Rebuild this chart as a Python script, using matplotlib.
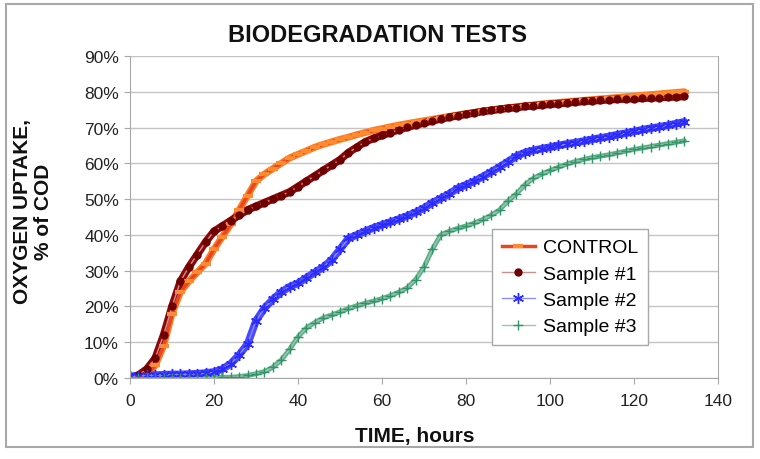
import numpy as np
import matplotlib
matplotlib.use("Agg")
import matplotlib.pyplot as plt
from matplotlib.ticker import PercentFormatter
from matplotlib.patches import Rectangle

plt.rcParams['font.family'] = ['Liberation Sans', 'DejaVu Sans']

# time in hours, one reading every 2 h
hours = np.arange(0, 133, 2)

control = [0, 0.3, 1, 3.5, 9, 18, 24, 27, 29.5, 32, 36, 39.5, 43, 47, 51, 55, 57, 58.5, 60, 61.5,
           62.5, 63.5, 64.5, 65.3, 66, 66.7, 67.3, 68, 68.6, 69.2, 69.7, 70.2, 70.7, 71.1, 71.5,
           71.9, 72.3, 72.7, 73.1, 73.5, 73.9, 74.2, 74.6, 74.9, 75.2, 75.5, 75.8, 76.1, 76.3,
           76.6, 76.8, 77.0, 77.2, 77.4, 77.6, 77.8, 78.0, 78.2, 78.4, 78.6, 78.8, 79.0, 79.2,
           79.4, 79.6, 79.8, 80.0]
sample1 = [0, 0.8, 2.5, 5.5, 12, 20, 27, 31, 34.5, 38, 41, 42.5, 44, 45.5, 47, 48, 49, 50, 51, 52,
           53.5, 55, 56.5, 58, 59.5, 61, 63, 64.5, 66, 67, 67.8, 68.6, 69.4, 70.1, 70.7, 71.3,
           71.9, 72.4, 72.9, 73.3, 73.7, 74.1, 74.5, 74.8, 75.1, 75.4, 75.6, 75.9, 76.1, 76.3,
           76.5, 76.7, 76.9, 77.1, 77.3, 77.5, 77.6, 77.8, 77.9, 78.0, 78.1, 78.2, 78.3, 78.4,
           78.5, 78.6, 78.7]
sample2 = [0.5, 0.6, 0.7, 0.8, 0.9, 1.0, 1.0, 1.1, 1.2, 1.4, 1.7, 2.5, 4, 6.5, 9.5, 16, 19.5, 22,
           24, 25.5, 26.5, 28, 29.5, 31, 33, 36, 39, 40, 41, 42, 42.8, 43.6, 44.4, 45.3, 46.3,
           47.5, 49, 50.2, 51.5, 53, 54, 55, 56.3, 57.6, 59, 60.5, 62, 63, 63.6, 64.1, 64.5, 65,
           65.4, 65.8, 66.2, 66.7, 67.1, 67.5, 68, 68.4, 68.9, 69.4, 69.8, 70.2, 70.6, 71.1, 71.6]
sample3 = [0, 0, 0, 0, 0, 0, 0, 0, 0.1, 0.1, 0.1, 0.2, 0.2, 0.4, 0.7, 1.2, 1.8, 3, 5, 8, 11.5,
           14, 15.5, 16.8, 17.6, 18.5, 19.4, 20.2, 20.9, 21.5, 22.2, 23, 24, 25.2, 27.5, 31, 36,
           40, 41, 41.8, 42.5, 43.3, 44.3, 45.5, 47, 49.5, 51.5, 54, 55.8, 57, 58, 58.9, 59.8,
           60.5, 61.1, 61.6, 62, 62.4, 62.9, 63.4, 63.9, 64.3, 64.7, 65.1, 65.5, 65.9, 66.3]

fig = plt.figure(figsize=(7.6, 4.6), dpi=100)
ax = fig.add_axes([130/760, 1 - 379/460, 588/760, 322/460])

# thick bands (the dense markers of the original merge into these)
ax.plot(hours, control, color='#ff7a22', lw=5, solid_capstyle='round')
ax.plot(hours, sample1, color='#8a0808', lw=5.5, solid_capstyle='round')
ax.plot(hours, sample2, color='#3535ff', lw=5.5, alpha=0.9, solid_capstyle='round')
ax.plot(hours, sample3, color='#45a077', lw=3.5, alpha=0.85, solid_capstyle='round')

# series with markers (these give the legend entries)
ax.plot(hours, control, color='#e8461e', lw=2.5, marker='_', ms=7, mew=3,
        mec='#ff8a30', label='CONTROL')
ax.plot(hours, sample1, color='#c89090', lw=1, marker='o', ms=5,
        mfc='#6e0000', mec='#6e0000', label='Sample #1')
ax.plot(hours, sample2, color='#8c8cff', lw=1, marker=(6, 2, 0), ms=8, mew=1.0,
        mec='#2a2aff', label='Sample #2')
ax.plot(hours, sample3, color='#9cc8b0', lw=1, marker='+', ms=7, mew=1.0,
        mec='#2f9466', label='Sample #3')

ax.set_xlim(0, 140)
ax.set_ylim(0, 90)
ax.set_xticks(range(0, 141, 20))
ax.set_yticks(range(0, 91, 10))
ax.yaxis.set_major_formatter(PercentFormatter(decimals=0))
ax.grid(axis='y', color='#c4c4c4', lw=1)
ax.set_axisbelow(True)
for s in ax.spines.values():
    s.set_color('#a8a8a8')
ax.spines['top'].set_visible(False)
ax.tick_params(axis='both', colors='#a8a8a8', labelcolor='#222222', labelsize=12.5, length=4)
ax.tick_params(axis='x', pad=7)
ax.tick_params(axis='y', pad=4)

fig.text(378/760, 1 - 35/460, 'BIODEGRADATION TESTS', ha='center', va='center',
         fontsize=17, fontweight='bold', color='#111111')
fig.text(415/760, 1 - 437/460, 'TIME, hours', ha='center', va='center',
         fontsize=15, fontweight='bold', color='#111111')
fig.text(33/760, 1 - 212/460, 'OXYGEN UPTAKE,\n% of COD', ha='center', va='center',
         rotation=90, multialignment='center', fontsize=15, fontweight='bold',
         color='#111111', linespacing=1.1)

leg = ax.legend(loc='upper left', bbox_to_anchor=(492/760, 1 - 230/460),
                bbox_transform=fig.transFigure, borderaxespad=0, fontsize=14,
                fancybox=False, edgecolor='#a8a8a8', handlelength=1.7,
                labelspacing=0.45, borderpad=0.5, handletextpad=0.4, framealpha=1)
leg.get_frame().set_linewidth(1)

fig.patches.append(Rectangle((6/760, 12/460), 747/760, 443/460, transform=fig.transFigure,
                             fill=False, edgecolor='#a8a8a8', lw=1.5))

fig.savefig('out.png', dpi=100)
